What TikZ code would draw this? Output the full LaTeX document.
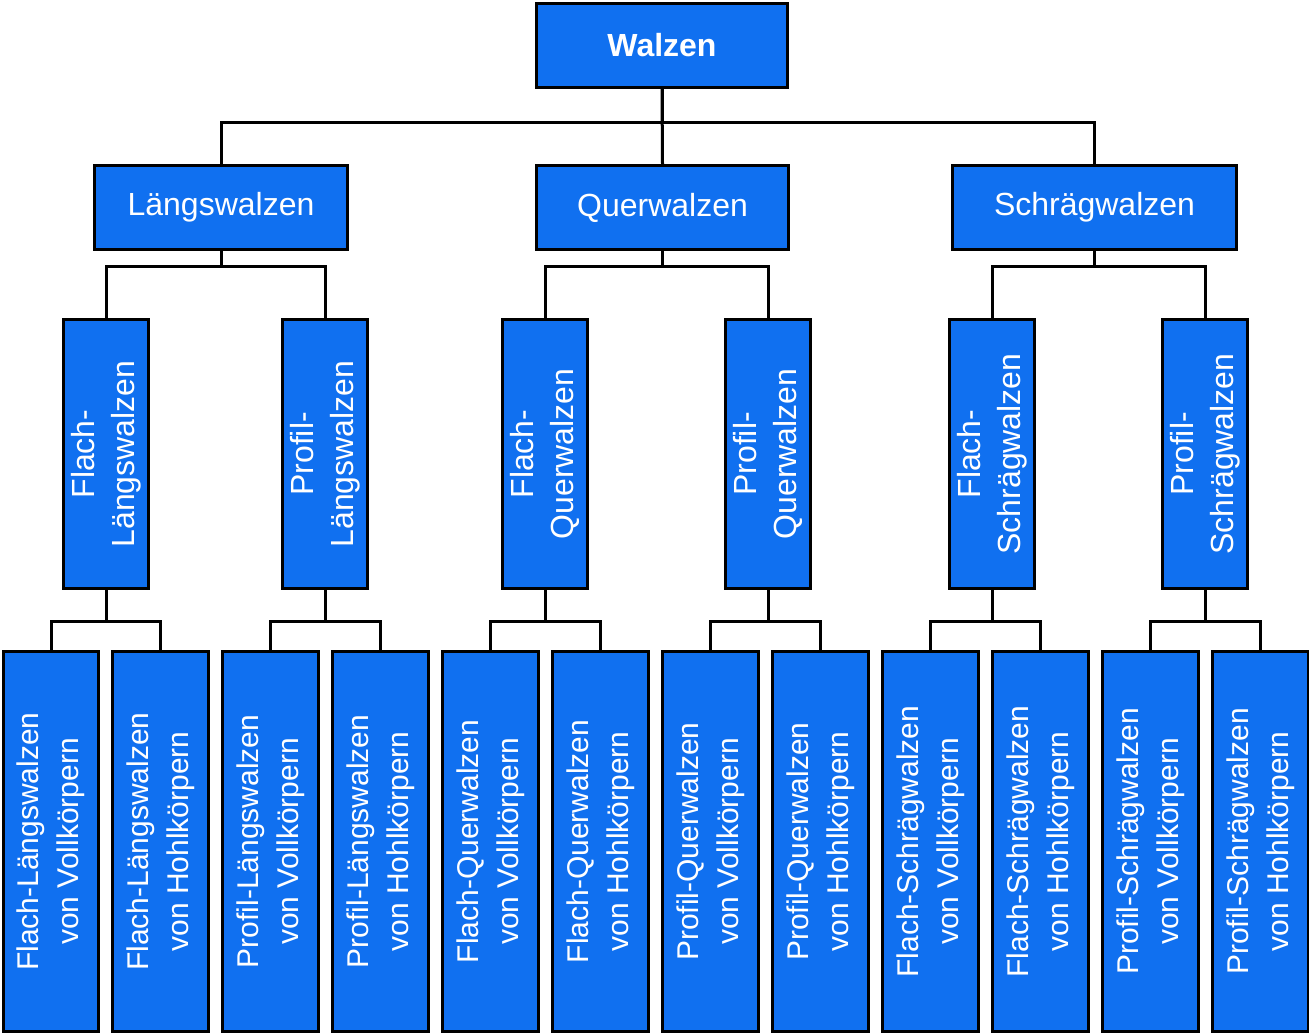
\documentclass[tikz,border=0pt]{standalone}
\usepackage{fontspec}
\setmainfont{Liberation Sans}
\definecolor{boxblue}{RGB}{16,112,240}
\begin{document}
\begin{tikzpicture}[x=1pt,y=-1pt,
  box/.style={draw=black,line width=3pt,fill=boxblue,text=white,inner sep=0pt,anchor=north west},
  conn/.style={line width=3pt,draw=black}]
\useasboundingbox (0,0) rectangle (1309,1033);
\newcommand{\hbx}[6]{% name, x1,y1,x2,y2,text
  \node[box,minimum width=#4-#2,minimum height=#5-#3,font=\fontsize{32}{40}\selectfont] (#1) at (#2,#3) {#6};}
\newcommand{\vbx}[7]{% name,x1,y1,x2,y2,size,text
  \node[box,minimum width=#4-#2,minimum height=#5-#3] (#1) at (#2,#3) {};
  \node[text=white,rotate=90,align=center,font=\fontsize{#6}{40}\selectfont] at (#1.center) {#7};}
\node[box,minimum width=251,minimum height=84,font=\fontsize{32}{40}\selectfont\bfseries] (w) at (535,2) {Walzen};
\hbx{l}{93}{164}{346}{248}{Längswalzen}
\hbx{q}{535}{164}{787}{248}{Querwalzen}
\hbx{s}{951}{164}{1235}{248}{Schrägwalzen}
\vbx{fl}{62}{318}{147}{587}{32}{Flach-\\Längswalzen}
\vbx{pl}{281}{318}{366}{587}{32}{Profil-\\Längswalzen}
\vbx{fq}{501}{318}{586}{587}{32}{Flach-\\Querwalzen}
\vbx{pq}{724}{318}{809}{587}{32}{Profil-\\Querwalzen}
\vbx{fs}{948}{318}{1033}{587}{32}{Flach-\\Schrägwalzen}
\vbx{ps}{1161}{318}{1246}{587}{32}{Profil-\\Schrägwalzen}
\vbx{a1}{2}{650}{97}{1030}{30}{Flach-Längswalzen\\von Vollkörpern}
\vbx{a2}{111}{650}{207}{1030}{30}{Flach-Längswalzen\\von Hohlkörpern}
\vbx{b1}{221}{650}{317}{1030}{30}{Profil-Längswalzen\\von Vollkörpern}
\vbx{b2}{331}{650}{427}{1030}{30}{Profil-Längswalzen\\von Hohlkörpern}
\vbx{c1}{441}{650}{537}{1030}{30}{Flach-Querwalzen\\von Vollkörpern}
\vbx{c2}{551}{650}{647}{1030}{30}{Flach-Querwalzen\\von Hohlkörpern}
\vbx{d1}{661}{650}{757}{1030}{30}{Profil-Querwalzen\\von Vollkörpern}
\vbx{d2}{771}{650}{867}{1030}{30}{Profil-Querwalzen\\von Hohlkörpern}
\vbx{e1}{881}{650}{977}{1030}{30}{Flach-Schrägwalzen\\von Vollkörpern}
\vbx{e2}{991}{650}{1087}{1030}{30}{Flach-Schrägwalzen\\von Hohlkörpern}
\vbx{f1}{1101}{650}{1197}{1030}{30}{Profil-Schrägwalzen\\von Vollkörpern}
\vbx{f2}{1211}{650}{1307}{1030}{30}{Profil-Schrägwalzen\\von Hohlkörpern}
\draw[conn] (w.south) -- (w.south |- 0,122) -| (l.north);
\draw[conn] (w.south |- 0,122) -| (s.north);
\draw[conn] (w.south) -- (q.north);
\foreach \p/\a/\b in {l/fl/pl,q/fq/pq,s/fs/ps}{
  \draw[conn] (\p.south) -- (\p.south |- 0,266) -| (\a.north);
  \draw[conn] (\p.south |- 0,266) -| (\b.north);}
\foreach \p/\a/\b in {fl/a1/a2,pl/b1/b2,fq/c1/c2,pq/d1/d2,fs/e1/e2,ps/f1/f2}{
  \draw[conn] (\p.south) -- (\p.south |- 0,621) -| (\a.north);
  \draw[conn] (\p.south |- 0,621) -| (\b.north);}
\end{tikzpicture}
\end{document}
